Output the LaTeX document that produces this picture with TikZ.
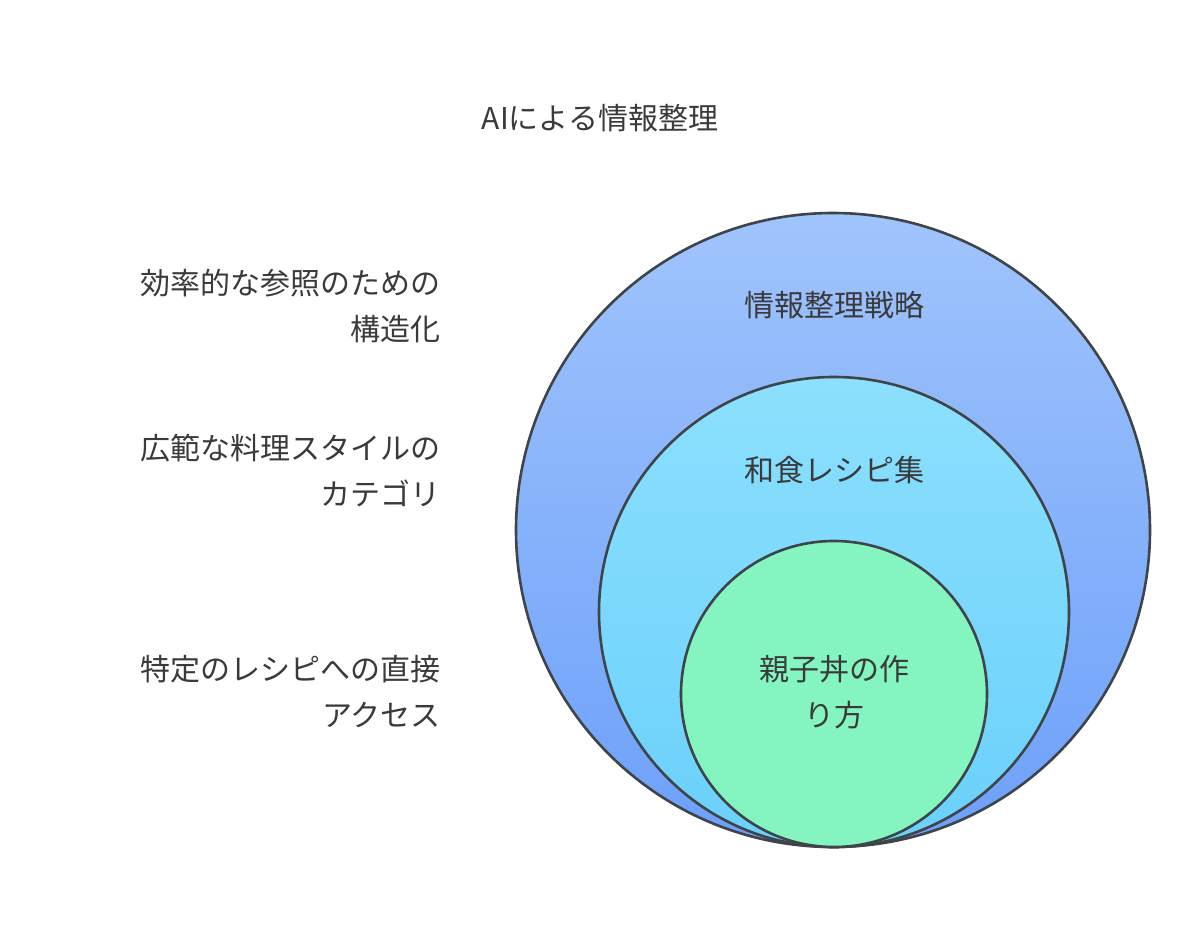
\documentclass[tikz,border=0pt]{standalone}
\usepackage{fontspec}
\setmainfont{Noto Sans CJK JP}
\definecolor{txt}{HTML}{3A3A3A}
\definecolor{edge}{HTML}{3F4448}
\begin{document}
\begin{tikzpicture}[x=1pt,y=-1pt,
  lbl/.style={text=txt,font=\fontsize{30}{46}\selectfont,align=right,anchor=east,inner sep=0pt},
  ctr/.style={text=txt,font=\fontsize{30}{46}\selectfont,align=center,inner sep=0pt},
  ring/.style={draw=edge,line width=2.6pt}]
\useasboundingbox (0,0) rectangle (1200,942);
\fill[white] (0,0) rectangle (1200,942);
\shade[top color={rgb,255:red,160;green,196;blue,252},bottom color={rgb,255:red,108;green,160;blue,250}] (833,530) circle (317);
\draw[ring] (833,530) circle (317);
\shade[top color={rgb,255:red,140;green,224;blue,253},bottom color={rgb,255:red,106;green,208;blue,251}] (834,612) circle (235);
\draw[ring] (834,612) circle (235);
\fill[fill={rgb,255:red,132;green,245;blue,193}] (834,694) circle (153);
\draw[ring] (834,694) circle (153);
\node[ctr] (title) at (600,118) {AIによる情報整理};
\node[ctr] (c1) at (834,305) {情報整理戦略};
\node[ctr] (c2) at (834,470) {和食レシピ集};
\node[ctr] (c3) at (834,692) {親子丼の作\\り方};
\node[lbl] (l1) at (441,306) {効率的な参照のための\\構造化};
\node[lbl] (l2) at (441,471) {広範な料理スタイルの\\カテゴリ};
\node[lbl] (l3) at (441,692) {特定のレシピへの直接\\アクセス};
\end{tikzpicture}
\end{document}
